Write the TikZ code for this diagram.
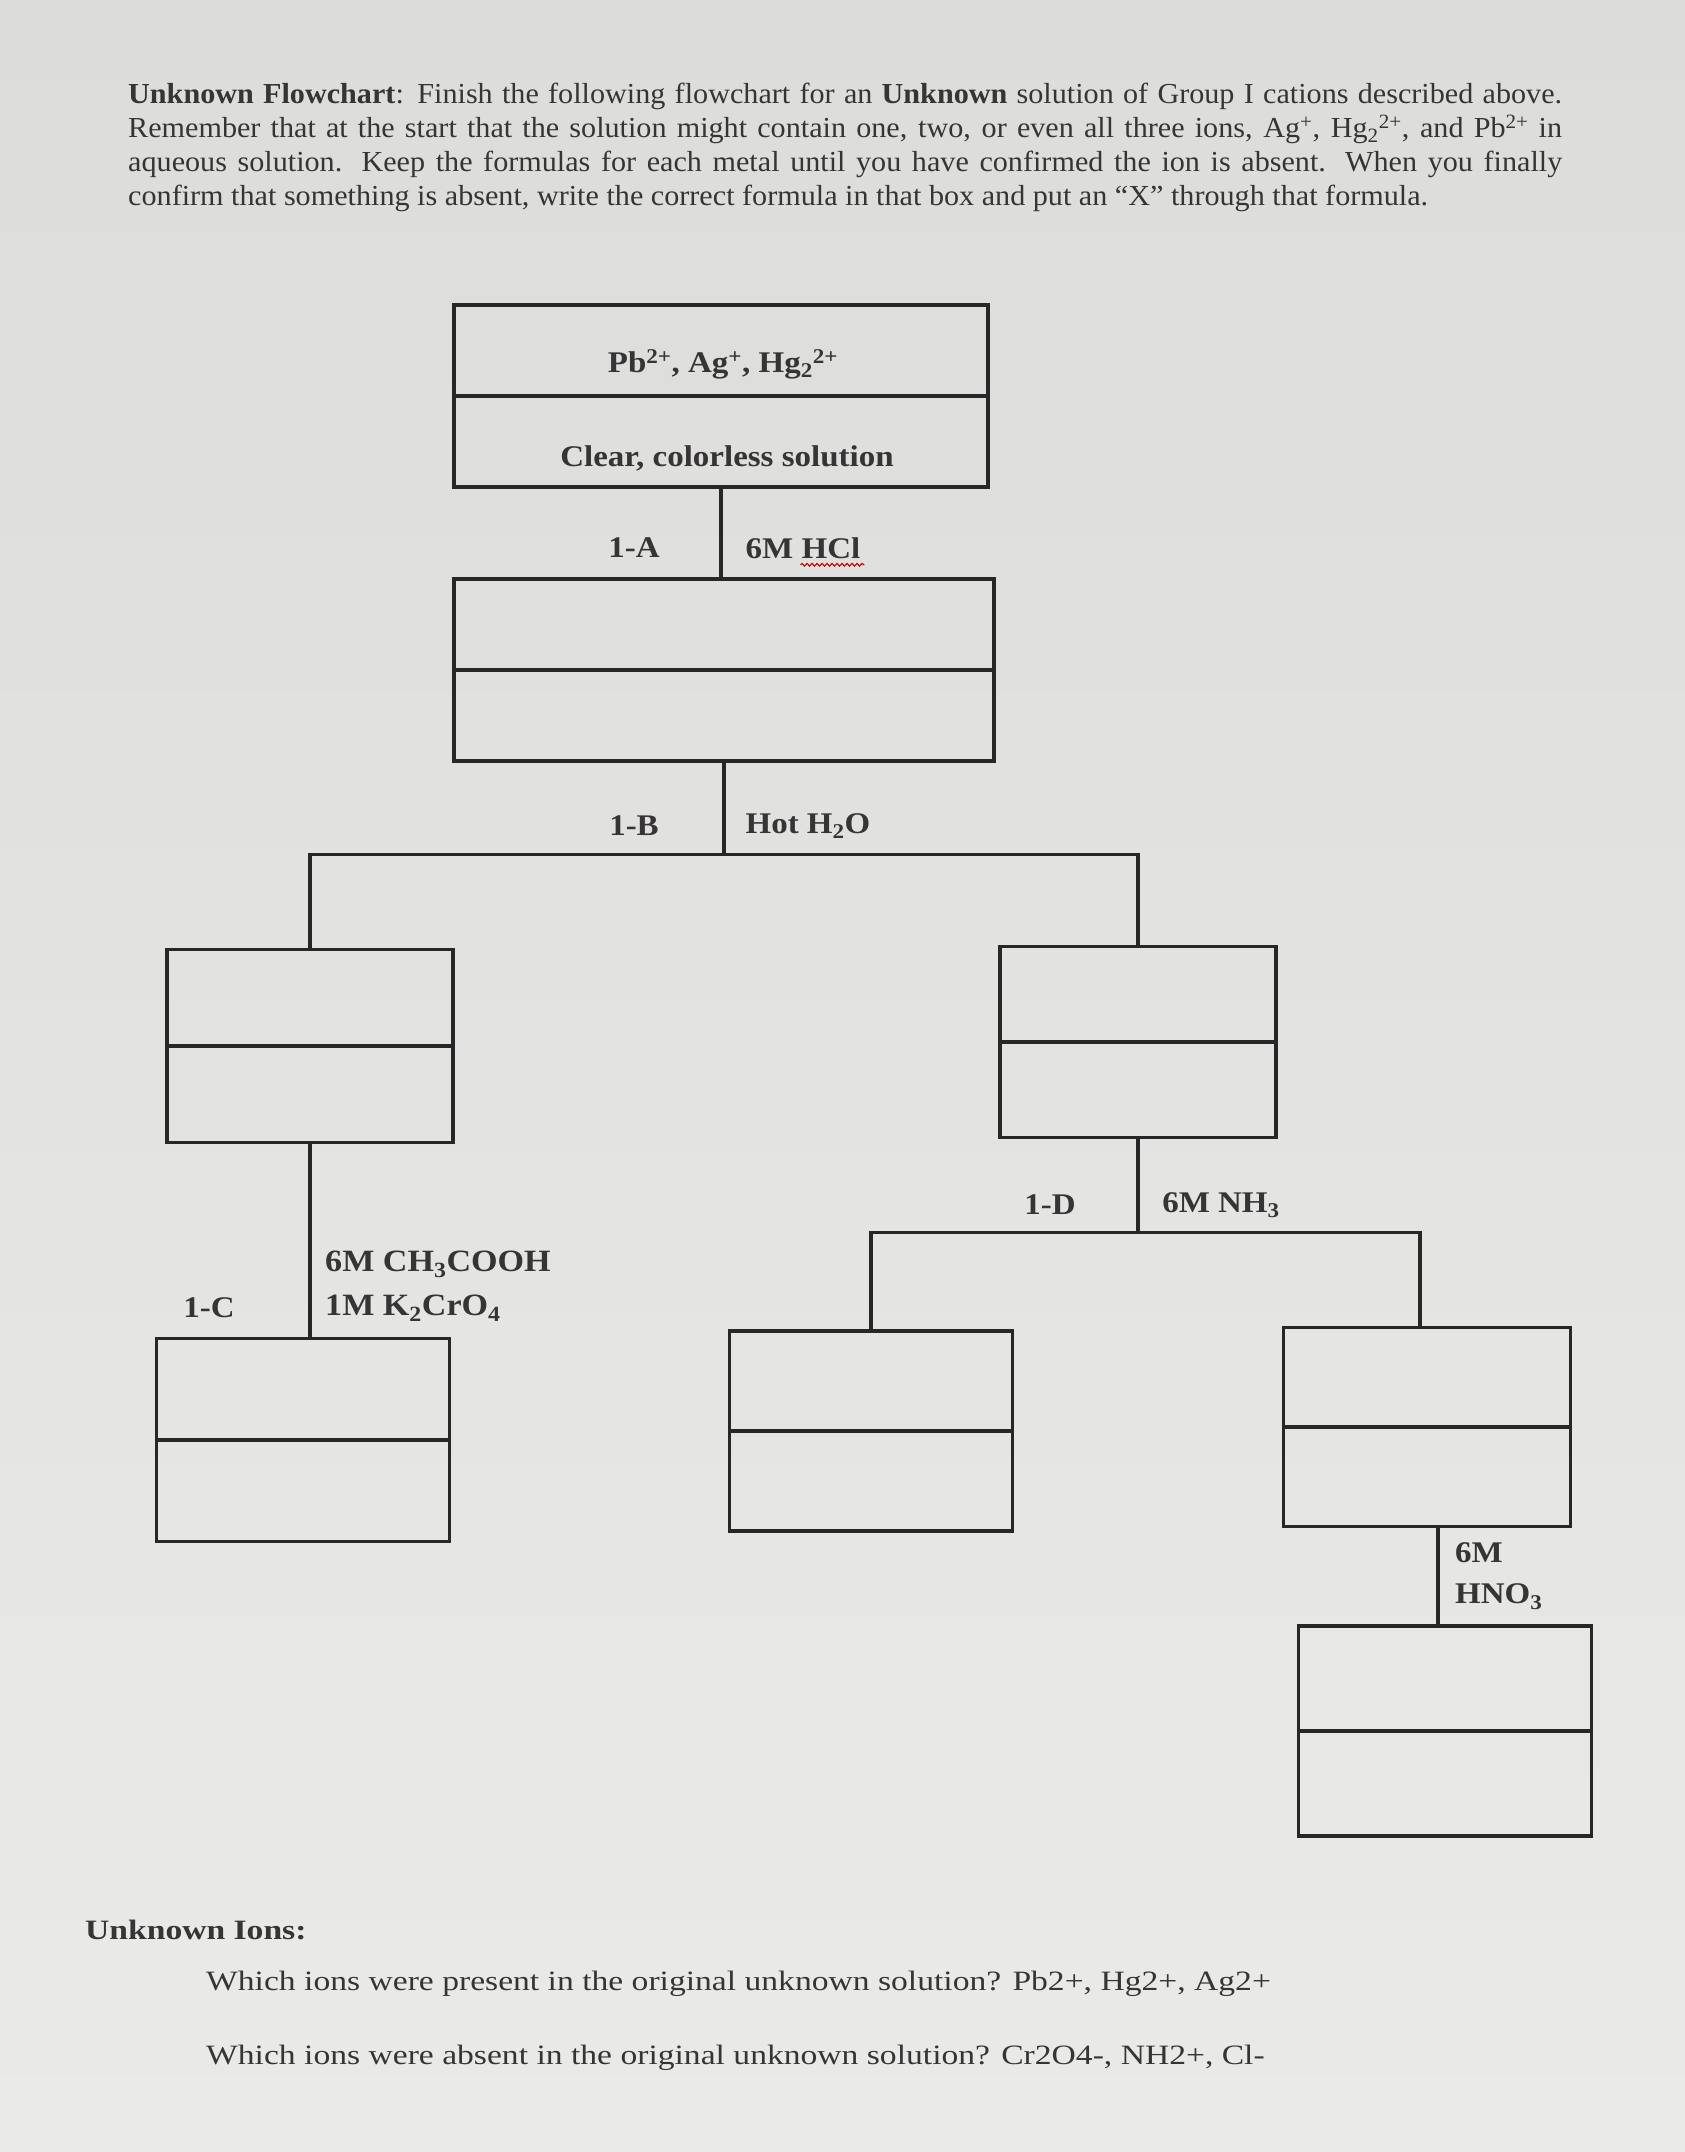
\documentclass[tikz,border=0pt]{standalone}
\usepackage{fontspec}
\setmainfont{Liberation Serif}
\newfontfamily\hdrfont[FakeStretch=1.04]{Liberation Serif}
\newfontfamily\lblfont[FakeStretch=1.1]{Liberation Serif}
\newfontfamily\ftrfont[FakeStretch=1.2]{Liberation Serif}
\usetikzlibrary{decorations.pathmorphing}
\definecolor{papertop}{HTML}{DCDCDA}
\definecolor{paperbot}{HTML}{EAEAE8}
\definecolor{ink}{HTML}{363434}
\definecolor{linec}{HTML}{272727}
\tikzset{
  box/.style={draw=linec, line width=3.2pt, inner sep=0pt, rectangle},
  conn/.style={draw=linec, line width=3.2pt},
  lbl/.style={font=\lblfont\bfseries\fontsize{30}{44}\selectfont, text=ink, inner sep=0pt},
  hdr/.style={font=\hdrfont\fontsize{29}{34}\selectfont, text=ink, inner sep=0pt, text width=1434pt, align=justify},
  ftr/.style={font=\ftrfont\fontsize{28}{32}\selectfont, text=ink, inner sep=0pt}
}
\begin{document}
\begin{tikzpicture}[x=1pt,y=-1pt]
\shade[top color=papertop, bottom color=paperbot] (0,0) rectangle (1685,2152);
\useasboundingbox (0,0) rectangle (1685,2152);

% header
\node[hdr, anchor=north west] (hdr) at (128,83) {\textbf{Unknown Flowchart}: Finish the following flowchart for an \textbf{Unknown} solution of Group I cations described above.\linebreak
Remember that at the start that the solution might contain one, two, or even all three ions, Ag\textsuperscript{+}, Hg\textsubscript{2}\textsuperscript{2+}, and Pb\textsuperscript{2+} in\linebreak
aqueous solution.  Keep the formulas for each metal until you have confirmed the ion is absent.  When you finally\linebreak
confirm that something is absent, write the correct formula in that box and put an “X” through that formula.};

% boxes
\node[box, minimum width=534pt, minimum height=182pt] (b1) at (721,396) {};
\node[box, minimum width=540pt, minimum height=182pt] (b2) at (724,670) {};
\node[box, minimum width=286pt, minimum height=193pt] (bL) at (310,1046) {};
\node[box, minimum width=276pt, minimum height=191pt] (bR) at (1138,1042) {};
\node[box, minimum width=293pt, minimum height=203pt] (bC) at (303,1440) {};
\node[box, minimum width=283pt, minimum height=200pt] (bD1) at (871,1431) {};
\node[box, minimum width=287pt, minimum height=199pt] (bD2) at (1427,1427) {};
\node[box, minimum width=293pt, minimum height=210pt] (bE) at (1445,1731) {};

% dividers
\foreach \b in {b1,b2,bL,bR,bC,bD1,bD2,bE}
  \draw[conn] (\b.west) -- (\b.east);

% box texts
\node[lbl] (t1) at (723,364) {Pb\textsuperscript{2+}, Ag\textsuperscript{+}, Hg\textsubscript{2}\textsuperscript{2+}};
\node[lbl] (t2) at (727,458) {Clear, colorless solution};

% connectors
\draw[conn] (b1.south) -- (b1.south |- b2.north);
\path (b2.south) ++(0,92) coordinate (j1);
\draw[conn] (b2.south) -- (j1);
\draw[conn] (bL.north) |- (j1) -| (bR.north);
\draw[conn] (bL.south) -- (bL.south |- bC.north);
\path (bR.south) ++(0,93) coordinate (j2);
\draw[conn] (bR.south) -- (j2);
\draw[conn] (bD1.north) |- (j2) -| ([xshift=-7pt]bD2.north);
\draw[conn] ([xshift=11pt]bD2.south) -- ([xshift=11pt]bD2.south |- bE.north);

% step labels
\node[lbl] (la) at (634,548) {1-A};
\node[lbl] (hcl) at (803,548) {6M HCl};
\draw[red!80!black, line width=1.1pt, decorate, decoration={snake, amplitude=1.4pt, segment length=5pt}]
  ([xshift=-60pt,yshift=-6pt]hcl.south east) -- ([xshift=4pt,yshift=-6pt]hcl.south east);
\node[lbl] (lb) at (634,826) {1-B};
\node[lbl] (hot) at (808,826) {Hot H\textsubscript{2}O};
\node[lbl] (lc) at (209,1308) {1-C};
\node[lbl, anchor=west, align=left, font=\lblfont\bfseries\fontsize{31}{44}\selectfont] (chro) at (325,1286) {6M CH\textsubscript{3}COOH\\1M K\textsubscript{2}CrO\textsubscript{4}};
\node[lbl] (ld) at (1050,1205) {1-D};
\node[lbl] (nh3) at (1221,1205) {6M NH\textsubscript{3}};
\node[lbl, anchor=west, align=left, font=\lblfont\bfseries\fontsize{30}{41}\selectfont] (hno) at (1455,1576) {6M\\HNO\textsubscript{3}};

% footer
\node[ftr, anchor=west, font=\ftrfont\bfseries\fontsize{28}{32}\selectfont] (ui) at (85,1930) {Unknown Ions:};
\node[ftr, anchor=west] (q1) at (206,1984) {Which ions were present in the original unknown solution? Pb2+, Hg2+, Ag2+};
\node[ftr, anchor=west] (q2) at (206,2058) {Which ions were absent in the original unknown solution? Cr2O4-, NH2+, Cl-};
\end{tikzpicture}
\end{document}
